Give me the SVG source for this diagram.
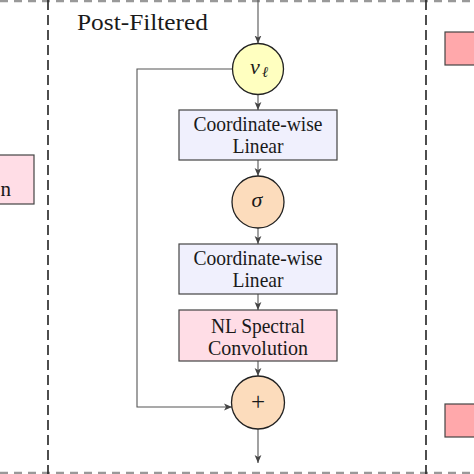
<svg xmlns="http://www.w3.org/2000/svg" width="474" height="474" viewBox="0 0 474 474">
  <style>
    .txt { font-family: "Liberation Serif", "DejaVu Serif", "Times New Roman", serif; font-size: 21px; fill: #1a1a1a; text-anchor: middle; }
    .math { font-family: "Liberation Serif", "DejaVu Serif", serif; font-style: italic; fill: #1a1a1a; text-anchor: middle; }
    .conn { fill: none; stroke: #555; stroke-width: 1.1; marker-end: url(#arr); }
    .circ { stroke: #222; stroke-width: 1.3; }
    .box { stroke: #444; stroke-width: 1.2; }
    .vdash { stroke: #222; stroke-width: 1.6; stroke-dasharray: 10 5; }
    .hdash { stroke: #999; stroke-width: 2.5; stroke-dasharray: 8 6; }
  </style>
  <defs>
    <marker id="arr" markerUnits="userSpaceOnUse" markerWidth="9" markerHeight="8" refX="8" refY="4" orient="auto">
      <path d="M0,0.6 L8,4 L0,7.4 L2,4 z" fill="#444"/>
    </marker>
  </defs>
  <rect width="474" height="474" fill="#fff"/>

  <g id="frame">
    <line class="hdash" x1="0" y1="1" x2="474" y2="1" stroke="#bbb"/>
    <line class="hdash" x1="0" y1="473" x2="474" y2="473"/>
    <line class="vdash" x1="48" y1="0" x2="48" y2="474"/>
    <line class="vdash" x1="426" y1="0" x2="426" y2="474"/>
  </g>

  <text class="txt" x="77" y="30" style="font-size:23.5px;text-anchor:start" textLength="131" lengthAdjust="spacingAndGlyphs">Post-Filtered</text>

  <g id="left-box">
    <rect class="box" x="-5" y="155" width="39" height="49" fill="#ffdde6"/>
    <text class="txt" x="0.5" y="196" style="text-anchor:start">n</text>
  </g>
  <g id="right-box-top">
    <rect class="box" x="445" y="32" width="40" height="33" fill="#ffa8ab"/>
  </g>
  <g id="right-box-bottom">
    <rect class="box" x="445" y="404" width="40" height="33" fill="#ffa8ab"/>
  </g>

  <g id="connectors">
    <path class="conn" d="M258 0 V43.5"/>
    <path class="conn" d="M258 94.5 V110"/>
    <path class="conn" d="M258 160 V176"/>
    <path class="conn" d="M258 228 V244"/>
    <path class="conn" d="M258 294 V310"/>
    <path class="conn" d="M258 361 V376"/>
    <path class="conn" d="M258 429 V463"/>
    <path class="conn" d="M232 69 H137 V407 H232"/>
  </g>

  <g id="v-ell">
    <circle class="circ" cx="258" cy="69" r="25.5" fill="#ffffc0"/>
    <text class="math" x="255" y="74" font-size="22">v</text>
    <text class="math" x="265" y="77" font-size="15">ℓ</text>
  </g>

  <g id="linear1">
    <rect class="box" x="179" y="110" width="158" height="50" fill="#f0f0fd"/>
    <text class="txt" x="258" y="131" textLength="129" lengthAdjust="spacingAndGlyphs">Coordinate-wise</text>
    <text class="txt" x="258" y="153" textLength="51" lengthAdjust="spacingAndGlyphs">Linear</text>
  </g>

  <g id="sigma">
    <circle class="circ" cx="258" cy="202" r="26" fill="#fcdcbc"/>
    <text class="math" x="257" y="207" font-size="22">σ</text>
  </g>

  <g id="linear2">
    <rect class="box" x="179" y="244" width="158" height="50" fill="#f0f0fd"/>
    <text class="txt" x="258" y="265" textLength="129" lengthAdjust="spacingAndGlyphs">Coordinate-wise</text>
    <text class="txt" x="258" y="287" textLength="51" lengthAdjust="spacingAndGlyphs">Linear</text>
  </g>

  <g id="nl-spectral">
    <rect class="box" x="179" y="310" width="158" height="51" fill="#ffdde6"/>
    <text class="txt" x="258" y="332.5" textLength="94" lengthAdjust="spacingAndGlyphs">NL Spectral</text>
    <text class="txt" x="258" y="354.5" textLength="100" lengthAdjust="spacingAndGlyphs">Convolution</text>
  </g>

  <g id="plus">
    <circle class="circ" cx="258" cy="402.5" r="26.5" fill="#fcdcbc"/>
    <text class="txt" x="258" y="410" style="font-size:25px">+</text>
  </g>
</svg>
